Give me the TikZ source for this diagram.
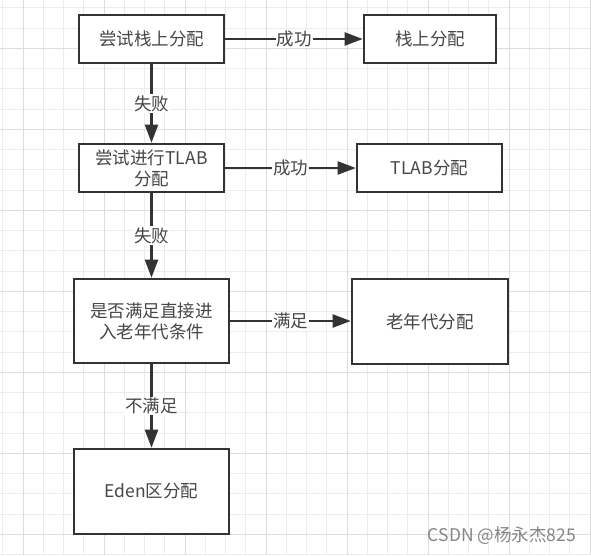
\documentclass[tikz,border=0pt]{standalone}
\usepackage{fontspec}
\setmainfont{Noto Sans CJK SC}
\usetikzlibrary{arrows.meta}
\definecolor{minorgrid}{HTML}{ECECEC}
\definecolor{majorgrid}{HTML}{DDDDDD}
\definecolor{ink}{HTML}{333333}
\definecolor{txt}{HTML}{464646}
\definecolor{wm}{HTML}{858585}
\tikzset{
  box/.style={draw=ink, line width=2.6pt, fill=white, text=txt, align=center,
    font=\fontsize{17.5}{21}\selectfont, inner sep=0pt},
  conn/.style={draw=ink, line width=2.2pt, -{Triangle[length=18pt,width=13pt]}},
  lbl/.style={fill=white, text=txt, font=\fontsize{17.5}{21}\selectfont, inner sep=1pt},
}
\begin{document}
\begin{tikzpicture}[x=1pt,y=-1pt]
\useasboundingbox (0,0) rectangle (591,555);
% grid
\foreach \i in {0,...,29} {
  \draw[minorgrid, line width=1pt] ({2.75+20.25*\i},0) -- ({2.75+20.25*\i},555);
}
\foreach \i in {0,...,27} {
  \draw[minorgrid, line width=1pt] (0,{7.75+20.25*\i}) -- (591,{7.75+20.25*\i});
}
\foreach \i in {0,...,7} {
  \draw[majorgrid, line width=1pt] ({23+81*\i},0) -- ({23+81*\i},555);
}
\foreach \i in {0,...,6} {
  \draw[majorgrid, line width=1pt] (0,{48.25+81*\i}) -- (591,{48.25+81*\i});
}
% boxes
\node[box, minimum width=145pt, minimum height=48pt] (b1) at (151.5,39) {尝试栈上分配};
\node[box, minimum width=132pt, minimum height=48pt] (b2) at (430,39) {栈上分配};
\node[box, minimum width=145pt, minimum height=48pt] (b3) at (151.5,168) {尝试进行TLAB\\分配};
\node[box, minimum width=145pt, minimum height=48pt] (b4) at (429.5,168) {TLAB分配};
\node[box, minimum width=155pt, minimum height=84pt] (b5) at (151.5,321) {是否满足直接进\\入老年代条件};
\node[box, minimum width=156pt, minimum height=85pt] (b6) at (430,321.5) {老年代分配};
\node[box, minimum width=155pt, minimum height=85pt] (b7) at (151.5,491.5) {Eden区分配};
% connectors
\draw[conn] (b1) -- node[lbl] {成功} (b2);
\draw[conn] (b1) -- node[lbl] {失败} (b3);
\draw[conn] (b3) -- node[lbl] {成功} (b4);
\draw[conn] (b3) -- node[lbl] {失败} (b5);
\draw[conn] (b5.east) -- node[lbl] {满足} (b6.west |- b5.east);
\draw[conn] (b5) -- node[lbl] {不满足} (b7);
% watermark
\node[anchor=east, text=wm, font=\fontsize{17.5}{20}\selectfont, inner sep=0pt] (wmk) at (576,536) {CSDN @杨永杰825};
\end{tikzpicture}
\end{document}
